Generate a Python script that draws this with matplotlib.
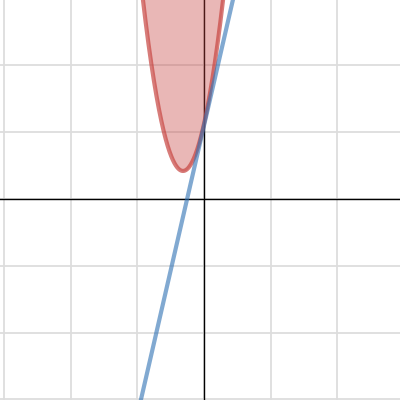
import numpy as np
import matplotlib.pyplot as plt

# view window (graph units)
x_range = [-3.06, 2.94]
y_range = [-3.01, 2.98]

# parabola y = a*(x - h)^2 + k, shaded above
par_a = 7.1
par_h = -0.315
par_k = 0.42

# line y = m*x + b
line_m = 4.34
line_b = 1.1

fig = plt.figure(figsize=(4, 4), dpi=100)
ax = fig.add_axes([0, 0, 1, 1])

for g in range(-3, 4):
    ax.axvline(g, color='#dddddd', lw=1.3, zorder=0)
    ax.axhline(g, color='#dddddd', lw=1.3, zorder=0)
ax.axvline(0, color='black', lw=1, zorder=1)
ax.axhline(0, color='black', lw=1, zorder=1)

xs = np.linspace(x_range[0], x_range[1], 2000)
py = par_a * (xs - par_h) ** 2 + par_k
ax.fill_between(xs, py, y_range[1] + 1, where=py < y_range[1] + 1,
                color='#c74440', alpha=0.38, lw=0, zorder=2)
ax.plot(xs, py, color='#c74440', lw=3, alpha=0.7, zorder=3)
ax.plot(xs, line_m * xs + line_b, color='#2d70b3', lw=3, alpha=0.6, zorder=4)

ax.set_xlim(x_range)
ax.set_ylim(y_range)
ax.axis('off')
fig.savefig('out.png', dpi=100)
